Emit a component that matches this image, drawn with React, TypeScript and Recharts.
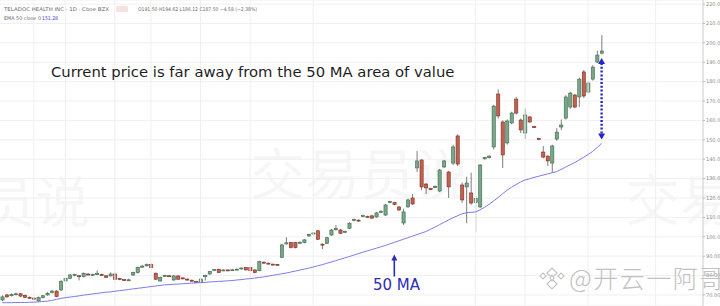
import React from 'react';
import { ComposedChart, Bar, Line, XAxis, YAxis, CartesianGrid, ReferenceLine } from 'recharts';

const opens = [67.4,70.0,69.6,70.2,70.6,69.8,68.8,68.4,66.9,68.6,
 70.0,71.2,72.0,72.6,77.2,78.6,80.0,79.9,79.5,80.8,
 80.2,80.6,80.6,79.9,79.8,80.8,78.4,77.9,77.5,80.3,
 81.5,84.3,85.0,85.8,81.2,77.2,79.6,79.9,77.7,79.8,
 78.8,78.2,77.6,77.0,76.3,79.4,80.8,82.6,83.2,82.6,
 82.9,82.7,83.0,83.4,84.1,84.1,82.9,82.5,86.9,86.4,
 85.9,85.8,89.4,96.3,97.0,97.0,96.6,97.0,100.4,101.4,
 103.1,96.2,96.6,100.9,103.6,103.5,102.4,104.4,108.4,108.6,
 110.4,110.5,110.8,110.2,112.6,111.2,117.6,117.6,115.4,107.1,
 115.4,120.0,135.5,139.6,127.2,124.8,125.4,123.6,136.0,133.4,
 138.0,152.0,126.7,125.7,122.6,117.6,115.4,140.2,140.8,146.3,
 173.6,159.2,148.4,158.7,171.0,160.2,153.5,161.8,156.8,150.6,
 143.7,141.6,138.0,150.4,156.6,161.2,166.9,173.1,172.1,185.0,
 174.6,181.3,190.1,194.7];

const highs = [69.8,70.5,70.8,71.2,71.0,70.2,69.2,68.8,69.2,70.0,
 71.6,72.6,72.4,77.6,79.0,80.8,81.0,80.2,81.6,81.2,
 81.0,82.6,81.0,80.2,81.6,81.4,78.8,78.2,78.4,82.0,
 84.6,85.4,86.2,86.2,81.6,79.4,80.4,80.3,80.2,80.2,
 79.0,78.4,77.9,77.3,78.6,80.4,82.4,83.4,83.6,83.2,
 83.2,83.3,83.6,84.2,84.4,84.4,83.2,87.6,87.3,86.7,
 86.1,86.0,96.4,99.8,97.4,97.4,97.6,98.8,101.6,102.4,
 103.5,96.6,100.0,104.0,106.0,104.0,103.2,107.5,109.4,108.9,
 111.4,110.9,111.2,112.8,113.6,116.9,118.6,118.0,115.8,114.5,
 119.6,122.0,144.2,140.0,127.6,125.2,126.4,135.0,139.6,134.0,
 147.5,152.8,128.0,131.0,133.0,121.0,137.5,141.2,142.0,168.0,
 176.0,160.0,160.5,164.5,172.0,161.0,166.0,162.3,157.2,151.0,
 146.8,142.0,147.5,156.0,160.5,173.0,174.8,173.6,182.0,186.0,
 180.0,188.5,196.0,204.0];

const lows = [66.8,68.6,69.2,69.8,69.0,68.4,68.0,67.4,66.5,68.2,
 69.6,70.8,68.8,72.0,76.8,78.2,79.6,77.5,79.0,80.0,
 79.8,80.2,79.8,78.8,79.5,77.8,77.6,77.2,77.1,79.8,
 81.0,84.0,84.7,83.8,77.8,76.9,79.2,79.2,77.4,77.8,
 78.0,77.4,76.8,76.4,75.8,77.5,80.4,82.3,81.2,82.3,
 82.3,82.4,82.7,83.1,82.6,82.2,81.2,82.2,86.2,85.8,
 85.3,85.2,89.0,96.0,94.0,94.0,96.2,96.6,100.0,101.0,
 98.3,93.6,96.2,100.5,103.2,101.5,102.0,104.0,108.0,107.8,
 110.0,109.8,109.2,109.8,112.2,110.8,117.2,116.2,113.4,106.1,
 115.0,116.5,133.4,124.0,122.0,124.0,125.0,123.0,135.5,120.0,
 137.0,136.5,117.5,107.0,116.5,102.5,114.8,139.8,140.4,145.0,
 161.0,135.5,147.5,158.0,163.0,153.5,150.5,158.7,156.0,149.8,
 140.5,136.5,133.0,149.5,155.0,160.5,166.0,166.3,167.0,171.5,
 174.0,180.5,189.5,194.0];

const closes = [69.0,69.0,70.2,70.6,69.4,68.8,68.4,67.8,68.6,69.6,
 70.8,72.0,69.2,76.9,78.6,80.3,80.5,79.5,81.2,80.3,
 80.6,81.0,80.2,79.1,80.8,78.1,78.0,77.6,77.8,81.5,
 84.1,84.9,85.6,84.1,78.1,79.1,80.1,79.6,79.8,78.1,
 78.4,77.8,77.2,76.8,78.2,80.0,82.0,83.1,81.5,82.9,
 82.6,83.0,83.3,83.9,82.9,82.5,81.5,87.2,86.5,86.1,
 85.6,85.5,95.8,96.9,94.4,94.4,97.2,98.4,101.2,102.0,
 98.7,95.8,99.5,103.5,104.2,101.8,102.8,107.0,109.0,108.1,
 111.0,110.1,109.6,112.3,113.2,116.4,118.2,116.6,113.8,112.8,
 119.0,116.9,139.1,125.7,125.2,124.4,126.0,134.4,139.1,125.7,
 146.3,137.5,119.0,127.7,117.4,119.8,137.0,140.8,141.6,167.4,
 162.3,142.2,159.7,163.8,163.8,155.1,162.8,159.2,156.4,150.2,
 141.1,139.1,146.8,154.0,157.6,172.1,174.1,166.9,181.3,172.6,
 179.3,187.5,193.7,195.8];

const ma50 = [66.0,66.0,66.0,66.1,66.1,66.1,66.2,66.3,66.4,66.6,
 66.8,67.2,67.7,68.2,68.6,68.9,69.2,69.5,69.9,70.2,
 70.5,70.8,71.1,71.4,71.6,71.9,72.2,72.5,72.8,73.1,
 73.4,73.7,74.0,74.3,74.6,74.9,75.2,75.3,75.5,75.6,
 75.8,75.9,76.1,76.2,76.4,76.5,76.7,76.8,77.0,77.1,
 77.3,77.4,77.7,77.9,78.2,78.4,78.7,79.0,79.3,79.7,
 80.1,80.5,80.9,81.3,81.8,82.3,82.8,83.3,83.8,84.4,
 85.0,85.6,86.3,87.0,87.7,88.4,89.1,89.8,90.5,91.3,
 92.0,92.7,93.4,94.1,94.8,95.5,96.3,97.1,97.9,98.7,
 99.5,100.3,101.1,101.9,102.7,103.8,105.0,106.2,107.4,108.6,
 109.8,110.8,111.8,112.4,112.6,112.8,113.8,115.2,116.7,118.4,
 120.2,122.1,124.0,125.5,126.9,128.2,129.3,129.9,130.6,131.2,
 131.8,132.4,133.0,133.6,134.7,135.9,137.1,138.2,139.6,141.0,
 142.4,144.0,146.0,148.2];

const priceTicks = [70, 80, 90, 100, 110, 120, 130, 140, 150, 160, 170, 180, 190, 200, 210, 220];
const gridSlots = [7, 14, 25, 33, 44, 55, 69, 105, 116, 130, 145];
const emptySlots = 22;
const maArrowSlot = 87;

const titleText = 'TELADOC HEALTH INC · 1D · Cboe BZX';
const ohlcText = 'O191.50 H194.62 L186.12 C187.50 −4.58 (−2.38%)';
const maLegend = 'EMA 50 close 0';
const maLegendValue = '151.28';
const noteText = 'Current price is far away from the 50 MA area of value';
const maLabel = '50 MA';
const watermark = '交易员说';
const brandText = '@开云一阿哥';

const data: any[] = opens.map((o, i) => ({
  idx: i, o, h: highs[i], l: lows[i], c: closes[i], range: [lows[i], highs[i]], ma: ma50[i],
}));
for (let k = 0; k < emptySlots; k++) data.push({ idx: opens.length + k });

const lastIdx = opens.length - 1;

const G_FILL = '#78a688';
const G_STROKE = '#3e6a4d';
const R_FILL = '#c2614f';
const R_STROKE = '#7c3024';

const Candle = (props: any) => {
  const { x, y, width, height, payload } = props;
  if (!payload || payload.o == null || y == null || height == null) return null;
  const top = Math.min(y, y + height);
  const bot = Math.max(y, y + height);
  const span = payload.h - payload.l;
  const py = (v: number) => (span > 0 ? top + ((payload.h - v) / span) * (bot - top) : top);
  const cx = x + width / 2;
  const up = payload.c >= payload.o;
  const yo = py(payload.o);
  const yc = py(payload.c);
  const bt = Math.min(yo, yc);
  const bh = Math.max(Math.abs(yo - yc), 1);
  return (
    <g>
      <line x1={cx} x2={cx} y1={top} y2={bot} stroke="#5c5c5c" strokeWidth={0.8} />
      <rect x={cx - 1.6} y={bt} width={3.2} height={bh} fill={up ? G_FILL : R_FILL} stroke={up ? G_STROKE : R_STROKE} strokeWidth={0.6} />
    </g>
  );
};

const DottedArrow = (p: any) => {
  const { x1, y1, y2 } = p;
  const top = Math.min(y1, y2);
  const bot = Math.max(y1, y2);
  const col = '#2626c8';
  return (
    <g>
      <line x1={x1} x2={x1} y1={top + 5} y2={bot - 5} stroke={col} strokeWidth={2.4} strokeDasharray="2 1.8" />
      <polygon points={`${x1 - 3.5},${top + 6} ${x1 + 3.5},${top + 6} ${x1},${top}`} fill={col} />
      <polygon points={`${x1 - 3.5},${bot - 6} ${x1 + 3.5},${bot - 6} ${x1},${bot}`} fill={col} />
    </g>
  );
};

const UpArrow = (p: any) => {
  const { x1, y1, y2 } = p;
  const top = Math.min(y1, y2);
  const bot = Math.max(y1, y2);
  const col = '#2d2db4';
  return (
    <g>
      <line x1={x1} x2={x1} y1={top + 4} y2={bot} stroke={col} strokeWidth={1.6} />
      <polygon points={`${x1 - 3},${top + 6} ${x1 + 3},${top + 6} ${x1},${top}`} fill={col} />
    </g>
  );
};

export default function App() {
  const wmStyle: any = { fontFamily: '"Noto Sans CJK SC"', fontSize: 55, fill: '#000', fillOpacity: 0.035 };
  return (
    <div style={{ position: 'absolute', left: 0, top: 0, width: 720, height: 306, background: '#fff', overflow: 'hidden' }}>
      <svg width={720} height={306} style={{ position: 'absolute', left: 0, top: 0 }}>
        <text x={-130} y={222} style={wmStyle}>{watermark}</text>
        <text x={250} y={194} style={wmStyle}>{watermark}</text>
        <text x={625} y={220} style={wmStyle}>{watermark}</text>
      </svg>
      <div style={{ position: 'absolute', left: 0, top: 0 }}>
        <ComposedChart width={720} height={306} data={data} margin={{ top: 0, right: 0, bottom: 0, left: 0 }}>
          <CartesianGrid vertical={false} stroke="#f0f0f0" />
          {gridSlots.map((s) => (
            <ReferenceLine key={s} x={s} stroke="#efefef" strokeWidth={1} />
          ))}
          <XAxis dataKey="idx" type="category" hide />
          <YAxis
            orientation="right"
            width={17}
            domain={[64.3, 222.1]}
            ticks={priceTicks}
            interval={0}
            allowDataOverflow
            tickSize={2}
            tickMargin={1}
            axisLine={{ stroke: '#cccccc' }}
            tickLine={{ stroke: '#bbbbbb' }}
            tick={{ fontSize: 5, fill: '#8a8a8a', fontFamily: 'DejaVu Sans' }}
            tickFormatter={(v: number) => v.toFixed(2)}
          />
          <Line dataKey="ma" type="linear" stroke="#7b7bec" strokeWidth={1} dot={false} activeDot={false} isAnimationActive={false} />
          <Bar dataKey="range" barSize={3} shape={Candle} isAnimationActive={false} />
          <ReferenceLine
            segment={[{ x: lastIdx, y: lows[lastIdx] - 1.8 }, { x: lastIdx, y: ma50[lastIdx] + 2 }]}
            shape={DottedArrow}
            ifOverflow="visible"
          />
          <ReferenceLine
            segment={[{ x: maArrowSlot, y: ma50[maArrowSlot] - 6.3 }, { x: maArrowSlot, y: ma50[maArrowSlot] - 17.6 }]}
            shape={UpArrow}
            ifOverflow="visible"
          />
        </ComposedChart>
      </div>
      <svg width={720} height={306} style={{ position: 'absolute', left: 0, top: 0, pointerEvents: 'none' }}>
        <text x={4} y={11} fontFamily="DejaVu Sans" fontSize={5} fill="#6a6a6a" textLength={105} lengthAdjust="spacingAndGlyphs">{titleText}</text>
        <rect x={116} y={6} width={12} height={6} rx={1.5} fill="#f6e3e0" />
        <text x={138} y={11} fontFamily="DejaVu Sans" fontSize={5} fill="#6a6a6a" textLength={119} lengthAdjust="spacingAndGlyphs">{ohlcText}</text>
        <text x={4} y={20} fontFamily="DejaVu Sans" fontSize={5} fill="#6a6a6a" textLength={37} lengthAdjust="spacingAndGlyphs">{maLegend}</text>
        <text x={42} y={20} fontFamily="DejaVu Sans" fontSize={5} fill="#3b3bd6" textLength={16} lengthAdjust="spacingAndGlyphs">{maLegendValue}</text>
        <text x={51} y={77} fontFamily="DejaVu Sans" fontSize={14.8} fill="#1e1e1e">{noteText}</text>
        <text x={373} y={290} fontFamily="DejaVu Sans" fontSize={15} fill="#2d2db4">{maLabel}</text>
        <g stroke="#c4c4c4" strokeWidth={1.2} fill="#fff">
          <polygon points="552,268 557,273 552,278 547,273" />
          <polygon points="543,273 546,276 543,279 540,276" />
          <polygon points="561,273 564,276 561,279 558,276" />
          <polygon points="552,279 557,284 552,289 547,284" />
          <polygon points="552,275 554,278 552,281 550,278" />
        </g>
        <text x={569} y={288} fontFamily='"Noto Sans CJK SC"' fontWeight={300} fontSize={25} fill="#c2c2c2" letterSpacing={1.5}>{brandText}</text>
      </svg>
    </div>
  );
}
